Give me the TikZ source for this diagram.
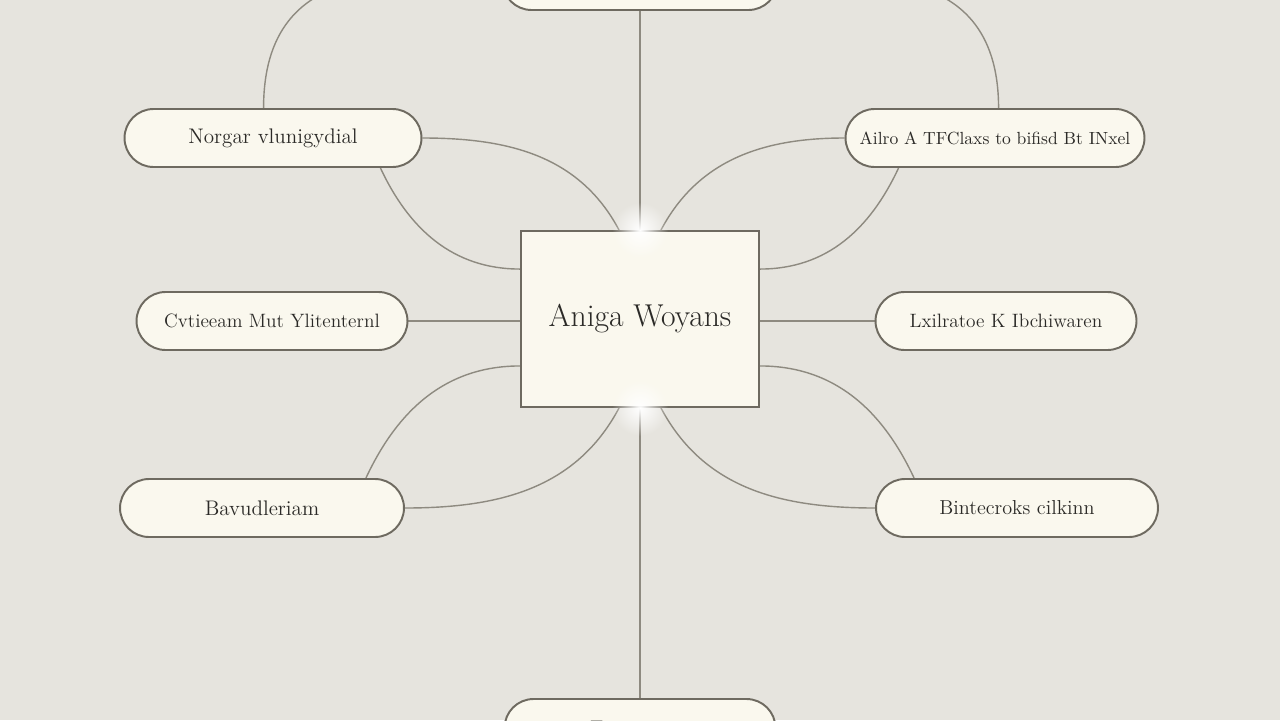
\documentclass[tikz,border=0pt]{standalone}
\usepackage{tikz}
\usetikzlibrary{positioning,calc,fadings,backgrounds}

\definecolor{paper}{HTML}{E6E4DE}
\definecolor{boxfill}{HTML}{FAF8EE}
\definecolor{rim}{HTML}{6E6A60}
\definecolor{wire}{HTML}{8E8A80}
\definecolor{ink}{HTML}{2B2A27}

\tikzfading[name=glowfade, inner color=transparent!0, outer color=transparent!100]

\tikzset{
  pill/.style={draw=rim, line width=1.1pt, fill=boxfill, rounded corners=0.58cm,
    minimum height=1.16cm, inner sep=0pt, text=ink, font=\fontsize{12}{14}\selectfont},
  small/.style={font=\fontsize{#1}{14}\selectfont},
  hubbox/.style={draw=rim, line width=1.1pt, fill=boxfill, minimum width=4.76cm,
    minimum height=3.52cm, text=ink, font=\fontsize{18}{22}\selectfont},
  link/.style={draw=wire, line width=0.8pt},
  glow/.style={white, path fading=glowfade}
}

\begin{document}
\begin{tikzpicture}[x=0.02cm, y=-0.02cm]
  % canvas
  \begin{pgfonlayer}{background}
    \fill[paper] (0,0) rectangle (1280,720);
  \end{pgfonlayer}
  \useasboundingbox (0,0) rectangle (1280,720);
  \clip (0,0) rectangle (1280,720);

  % central box
  \node[hubbox] (hub) at (640,319) {Aniga Woyans};

  % outer boxes
  \node[pill, minimum width=5.5cm]  (topbox)    at (640,-19) {};
  \node[pill, minimum width=5.42cm] (bottombox) at (640,728) {Eorvaiuran};
  \node[pill, minimum width=5.94cm] (lefttop)   at (273,138) {Norgar vlunigydial};
  \node[pill, minimum width=5.98cm, small=10] (righttop) at (995,138) {Ailro A TFClaxs to bifisd Bt INxel};
  \node[pill, minimum width=5.42cm, small=11] (leftmid)  at (272,321) {Cvtieeam Mut Ylitenternl};
  \node[pill, minimum width=5.22cm, small=11] (rightmid) at (1006,321) {Lxilratoe K Ibchiwaren};
  \node[pill, minimum width=5.68cm] (leftbot)   at (262,508) {Bavudleriam};
  \node[pill, minimum width=5.64cm, small=11.5] (rightbot) at (1017,508) {Bintecroks cilkinn};

  \begin{scope}[on background layer]
  % straight spokes
  \draw[link] (hub.north) -- (topbox.south);
  \draw[link] (hub.south) -- (bottombox.north);
  \draw[link] (leftmid.east) -- (leftmid.east -| hub.west);
  \draw[link] (rightmid.west) -- (rightmid.west -| hub.east);

  % upper arcs
  \draw[link] ($(lefttop.north west)+(140,0)$)
    to[out=90, in=180, out looseness=1.6, in looseness=0.6] (topbox.west);
  \draw[link] ($(righttop.north west)+(154,0)$)
    to[out=90, in=0, out looseness=1.6, in looseness=0.6] (topbox.east);
  \draw[link] (lefttop.east) to[out=0, in=118] ($(hub.north west)+(99,0)$);
  \draw[link] (righttop.west) to[out=180, in=62] ($(hub.north east)+(-99,0)$);
  \draw[link] ($(lefttop.south east)+(-42,0)$) to[out=-65, in=180] ($(hub.north west)+(0,39)$);
  \draw[link] ($(righttop.south west)+(54,0)$) to[out=-115, in=0] ($(hub.north east)+(0,39)$);

  % lower arcs
  \draw[link] ($(hub.south west)+(0,-42)$) to[out=180, in=65] ($(leftbot.north east)+(-39,0)$);
  \draw[link] ($(hub.south east)+(0,-42)$) to[out=0, in=115] ($(rightbot.north west)+(39,0)$);
  \draw[link] ($(hub.south west)+(99,0)$) to[out=-118, in=0] (leftbot.east);
  \draw[link] ($(hub.south east)+(-99,0)$) to[out=-62, in=180] (rightbot.west);
  \end{scope}

  % soft light at the hub
  \fill[glow] (hub.north) circle (28);
  \fill[glow] (hub.south) circle (28);
\end{tikzpicture}
\end{document}
